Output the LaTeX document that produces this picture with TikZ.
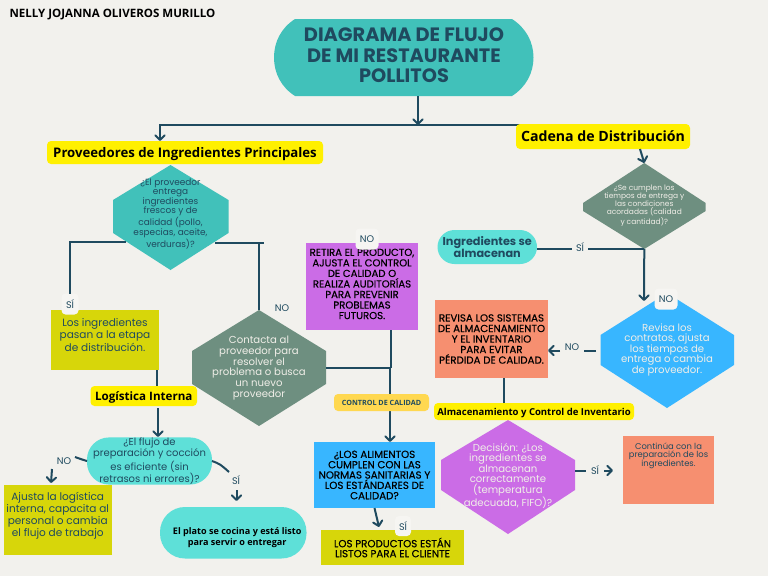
\documentclass[tikz,border=0pt]{standalone}
\usepackage{fontspec}
\setmainfont{Poppins}
\newfontfamily\opensans{Open Sans}
\newfontfamily\popmedio[FakeBold=0.4]{Poppins}
\usepackage{tikz}
\usetikzlibrary{arrows.meta}
\tikzset{
  azuloscuro/.style={text={rgb, 255:red, 31; green, 74; blue, 95 }},
  linea/.style={draw={rgb, 255:red, 31; green, 74; blue, 95 },line width=1.5pt},
  flecha/.style={linea,-{Straight Barb[length=3.5pt,width=7pt,round]}},
  caja/.style={inner sep=0pt,outer sep=0pt,align=center},
  rotulo/.style={inner sep=0pt,outer sep=0pt,rounded corners=3pt,fill={rgb, 255:red, 255; green, 240; blue, 0 },execute at begin node={\rule[-.24em]{0pt}{1.25em}}},
  pestana/.style={caja,azuloscuro,rounded corners=3pt,fill={rgb, 255:red, 246; green, 245; blue, 242 },font=\fontsize{7.2}{8}\selectfont},
  etiqueta/.style={caja,azuloscuro,fill={rgb, 255:red, 242; green, 241; blue, 237 },font=\fontsize{7.2}{8}\selectfont},
  turquesa/.style={fill={rgb, 255:red, 65; green, 193; blue, 186 }},
  aguamarina/.style={fill={rgb, 255:red, 94; green, 224; blue, 216 }},
  gris/.style={fill={rgb, 255:red, 110; green, 143; blue, 128 }},
  celeste/.style={fill={rgb, 255:red, 56; green, 182; blue, 255 }},
  violeta/.style={fill={rgb, 255:red, 203; green, 108; blue, 230 }},
  salmon/.style={fill={rgb, 255:red, 246; green, 143; blue, 112 }},
  oliva/.style={fill={rgb, 255:red, 215; green, 214; blue, 10 }},
  textoclaro/.style={text={rgb, 255:red, 240; green, 238; blue, 232 }},
}
\begin{document}
\begin{tikzpicture}[x=0.75pt,y=0.75pt,yscale=-1,xscale=1]
        \useasboundingbox (0,0) rectangle (768,576);
        \fill [fill={rgb, 255:red, 242; green, 241; blue, 237 }] (0,0) rectangle (768,576);

        % Text Node
        \draw (112.5,15) node (autora) [caja,font=\opensans\bfseries\fontsize{8.65}{10}\selectfont] {NELLY JOJANNA OLIVEROS MURILLO};

        %Title shape
        \draw [turquesa,draw=none] (295,19) -- (512,19) .. controls (526,28) and (533.5,42) .. (533.5,57.5) .. controls (533.5,73) and (526,87) .. (512,96) -- (295,96) .. controls (281,87) and (274,73) .. (274,57.5) .. controls (274,42) and (281,28) .. (295,19) -- cycle ;
        % Text Node
        \draw (404,55.5) node (titulo) [caja,azuloscuro,minimum height=0.75*82pt,font=\bfseries\fontsize{14.5}{15.4}\selectfont] {DIAGRAMA DE FLUJO\\DE MI RESTAURANTE\\POLLITOS};

        % Text Node
        \draw (185,152.5) node (proveedores) [rotulo,minimum width=0.75*276pt,minimum height=0.75*23pt,font=\opensans\bfseries\fontsize{9.9}{11}\selectfont] {Proveedores de Ingredientes Principales};

        %Straight Lines
        \coordinate (tronco) at (418,125);
        \coordinate (provent) at (160,141);
        \coordinate (cadfin) at (633,125);
        \draw [flecha] (418,96) -- (tronco);
        \draw [flecha] (cadfin) -| (provent);

        % Text Node
        \draw (603,136.5) node (cadena) [rotulo,minimum width=0.75*174pt,minimum height=0.75*25pt,font=\opensans\bfseries\fontsize{10.6}{12}\selectfont] {Cadena de Distribución};

        %Hexagon
        \draw [turquesa,draw=none] (170.5,165) -- (228.5,200) -- (228.5,233) -- (170.5,270) -- (113,233) -- (113,200) -- cycle ;
        % Text Node
        \draw (170.5,217.5) node (hexfrescos) [caja,azuloscuro,minimum width=0.75*115.5pt,minimum height=0.75*105pt,font=\fontsize{6.7}{7.1}\selectfont] {¿El proveedor\\entrega\\ingredientes\\frescos y de\\calidad (pollo,\\especias, aceite,\\verduras)?\\\mbox{}};

        % Text Node
        \draw (105,340) node (pasan) [caja,azuloscuro,oliva,minimum width=0.75*108pt,minimum height=0.75*60pt,font=\fontsize{7.9}{7.75}\selectfont] {Los ingredientes\\pasan a la etapa\\de distribución.\\\mbox{}};
        \draw (70,304) node (sifrescos) [pestana,minimum width=0.75*17pt,minimum height=0.75*21pt] {SÍ};

        %Straight Lines
        \coordinate (provizq) at (126,241.5);
        \coordinate (provder) at (215,243);
        \coordinate (provfin) at (264,243);
        \coordinate (provbaj) at (259,243);
        \draw [linea] (provizq) -| (sifrescos);
        \draw [linea] (provder) -- (provfin);

        %Hexagon
        \draw [gris,draw=none] (259,310) -- (326,351) -- (326,384) -- (259,426) -- (192,384) -- (192,351) -- cycle ;
        % Text Node
        \draw (259,368) node (hexcontacta) [caja,textoclaro,minimum width=0.75*134pt,minimum height=0.75*116pt,font=\fontsize{7.6}{8.1}\selectfont] {Contacta al\\proveedor para\\resolver el\\problema o busca\\un nuevo\\proveedor};
        \draw [linea] (provbaj) -- (hexcontacta.north);
        \draw (282,308.5) node (nocontacta) [caja,azuloscuro,font=\fontsize{7.2}{8}\selectfont] {NO};

        % Text Node
        \draw (362,286.5) node (retira) [caja,violeta,minimum width=0.75*112pt,minimum height=0.75*87pt,font=\popmedio\fontsize{7.6}{7.9}\selectfont] {RETIRA EL PRODUCTO,\\AJUSTA EL CONTROL\\DE CALIDAD O\\REALIZA AUDITORÍAS\\PARA PREVENIR\\PROBLEMAS\\FUTUROS.\\[-4pt]\mbox{}};
        \draw (367,239) node (noretira) [pestana,minimum width=0.75*23pt,minimum height=0.75*21pt] {NO};

        % Text Node
        \draw (374.5,475) node (alimentos) [caja,celeste,minimum width=0.75*121pt,minimum height=0.75*66pt,font=\popmedio\fontsize{7.7}{7.75}\selectfont] {¿LOS ALIMENTOS\\CUMPLEN CON LAS\\NORMAS SANITARIAS Y\\LOS ESTÁNDARES DE\\CALIDAD?};

        %Straight Lines
        \coordinate (unionctl) at (391,368);
        \coordinate (ctlbaja) at (390,368);
        \draw [linea] (hexcontacta.east) -- (unionctl);
        \draw [linea] (retira.south -| unionctl) -- (unionctl);
        \draw [flecha] (ctlbaja) -- (ctlbaja |- alimentos.north);

        % Text Node
        \draw (381.5,402.5) node (control) [rotulo,fill={rgb, 255:red, 255; green, 216; blue, 80 },azuloscuro,minimum width=0.75*95pt,minimum height=0.75*17pt,font=\opensans\bfseries\fontsize{5.4}{6}\selectfont] {CONTROL DE CALIDAD};

        % Text Node
        \draw (392.5,547.5) node (listos) [caja,oliva,minimum width=0.75*143pt,minimum height=0.75*35pt,font=\popmedio\fontsize{7.7}{7.5}\selectfont] {LOS PRODUCTOS ESTÁN\\LISTOS PARA EL CLIENTE};
        \draw (403,526) node (silistos) [pestana,minimum width=0.75*16pt,minimum height=0.75*20pt] {SÍ};
        \coordinate (listosent) at (379,527);
        \draw [flecha] (alimentos.south) -- (listosent);

        % Text Node
        \draw (143.75,396) node (logistica) [rotulo,minimum width=0.75*106.5pt,minimum height=0.75*20pt,font=\opensans\bfseries\fontsize{8.7}{10}\selectfont] {Logística Interna};
        \coordinate (logent) at (157,386);
        \coordinate (logsal) at (158,408);
        \draw [linea] (pasan.south -| logent) -- (logent);

        % Text Node
        \draw (149.5,461) node (flujo) [caja,azuloscuro,aguamarina,rounded corners=0.75*22pt,minimum width=0.75*125pt,minimum height=0.75*44pt,font=\fontsize{7.5}{7.4}\selectfont] {¿El flujo de\\preparación y cocción\\es eficiente (sin\\retrasos ni errores)?};
        \coordinate (flujoent) at (158,437);
        \draw [flecha] (logsal) -- (flujoent);

        % Text Node
        \draw (57.75,520) node (ajusta) [caja,azuloscuro,oliva,minimum width=0.75*107.5pt,minimum height=0.75*70pt,font=\fontsize{7.9}{8}\selectfont] {Ajusta la logística\\interna, capacita al\\personal o cambia\\el flujo de trabajo\\\mbox{}};
        \draw (64,461) node (noflujo) [caja,azuloscuro,font=\fontsize{7.2}{8}\selectfont] {NO};
        \coordinate (nofin) at (75,457);
        \coordinate (noflecha) at (52,469);
        \coordinate (noentra) at (51,483);
        \draw [linea] (flujo.west) .. controls (82,459.5) .. (nofin);
        \draw [flecha] (noflecha) -- (noentra);

        % Text Node
        \draw (233.25,532.75) node (plato) [caja,aguamarina,rounded corners=0.75*25pt,minimum width=0.75*146.5pt,minimum height=0.75*51.5pt,font=\opensans\bfseries\fontsize{6.8}{8.8}\selectfont] {\mbox{}\\[3.6pt]\hspace*{6pt}El plato se cocina y está listo\\\hspace*{6pt}para servir o entregar};
        \draw (236,480) node (siflujo) [caja,azuloscuro,font=\fontsize{7.2}{8}\selectfont] {SÍ};
        \coordinate (sifin) at (229,472);
        \coordinate (siflecha) at (236.5,490);
        \coordinate (sientra) at (236.5,501);
        \draw [linea] (flujo.east) .. controls (220,464) .. (sifin);
        \draw [flecha] (siflecha) -- (sientra);

        %Diamond
        \draw [gris,draw=none] (644.3,163) -- (705.7,203) -- (705.7,211) -- (644.3,249) -- (583,211) -- (583,203) -- cycle ;
        % Text Node
        \draw (644.3,206) node (hexcumplen) [caja,textoclaro,minimum width=0.75*122.7pt,minimum height=0.75*86pt,font=\fontsize{5.6}{6}\selectfont] {¿Se cumplen los\\tiempos de entrega y\\las condiciones\\acordadas (calidad\\y cantidad)?};
        \coordinate (cadsal) at (640,149);
        \draw [flecha] (cadsal) -- (hexcumplen.north);

        % Text Node
        \draw (487.25,247) node (ingredientes) [caja,azuloscuro,aguamarina,rounded corners=0.75*17pt,minimum width=0.75*99.5pt,minimum height=0.75*34pt,font=\bfseries\fontsize{8.45}{8.2}\selectfont] {Ingredientes se\\almacenan};
        \draw [linea] (hexcumplen.south) -- (ingredientes.east |- hexcumplen.south);
        \draw (580,247.5) node (sialmacena) [etiqueta,minimum width=0.75*16pt,minimum height=0.75*12pt] {SÍ};

        %Hexagon
        \draw [celeste,draw=none] (667,293) -- (734,335) -- (734,365) -- (667,408) -- (600.5,365) -- (600.5,335) -- cycle ;
        % Text Node
        \draw (667,350.5) node (hexrevisa) [caja,textoclaro,minimum width=0.75*133.5pt,minimum height=0.75*115pt,font=\fontsize{7.6}{7.9}\selectfont] {Revisa los\\contratos, ajusta\\los tiempos de\\entrega o cambia\\de proveedor.\\[-5pt]\mbox{}};
        \coordinate (cumplenent) at (644,301);
        \draw [flecha] (hexcumplen.south) -- (cumplenent);
        \draw (666,299) node (norevisa) [pestana,minimum width=0.75*23pt,minimum height=0.75*21pt] {NO};

        % Text Node
        \draw (491.5,339) node (revisa) [caja,salmon,minimum width=0.75*113pt,minimum height=0.75*78pt,font=\popmedio\fontsize{7.7}{7.9}\selectfont] {REVISA LOS SISTEMAS\\DE ALMACENAMIENTO\\Y EL INVENTARIO\\PARA EVITAR\\PÉRDIDA DE CALIDAD.};
        \draw (572,347.5) node (norevsis) [caja,azuloscuro,minimum width=0.75*24pt,font=\fontsize{7.2}{8}\selectfont] {NO};
        \coordinate (revini) at (596,350.5);
        \coordinate (almaent) at (504,410);
        \draw [linea] (revini) -- (norevsis.east |- revini);
        \draw [flecha] (norevsis.west |- revini) -- (revisa.east |- revini);
        \draw [flecha] (revisa.south -| almaent) -- (almaent);

        %Hexagon
        \draw [violeta,draw=none] (508,420) -- (575,460) -- (575,490) -- (508,534) -- (441,490) -- (441,460) -- cycle ;
        % Text Node
        \draw (508,477) node (hexdecision) [caja,textoclaro,minimum width=0.75*134pt,minimum height=0.75*114pt,font=\fontsize{7.6}{7.85}\selectfont] {Decisión: ¿Los\\ingredientes se\\almacenan\\correctamente\\(temperatura\\adecuada, FIFO)?\\[-5pt]\mbox{}};

        % Text Node
        \draw (534,411.5) node (almacen) [rotulo,minimum width=0.75*200pt,minimum height=0.75*17pt,font=\opensans\bfseries\fontsize{7.15}{8}\selectfont] {Almacenamiento y Control de Inventario};

        % Text Node
        \draw (668.5,470) node (continua) [caja,azuloscuro,salmon,minimum width=0.75*91pt,minimum height=0.75*68pt,font=\fontsize{6.3}{6.5}\selectfont] {Continúa con la\\preparación de los\\ingredientes.\\\mbox{}\\\mbox{}\\\mbox{}\\[-3pt]\mbox{}};
        \draw (595,470.5) node (sicontinua) [caja,azuloscuro,minimum width=0.75*18pt,font=\fontsize{7.2}{8}\selectfont] {SÍ};
        \coordinate (sicontfin) at (613,470.5);
        \draw [linea] (sicontinua -| hexdecision.east) -- (sicontinua.west);
        \draw [flecha] (sicontinua.east) -- (sicontfin);
\end{tikzpicture}
\end{document}
